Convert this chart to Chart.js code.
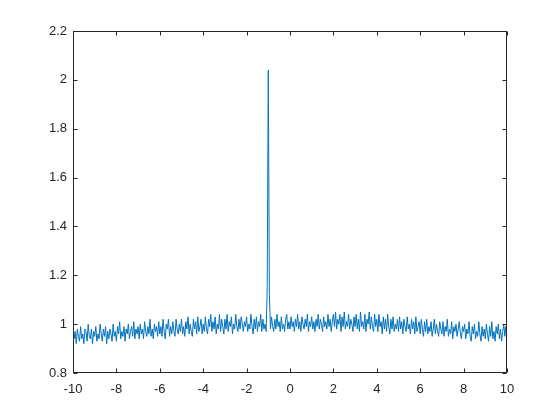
<!DOCTYPE html>
<html>
<head>
<meta charset="utf-8">
<script src="https://cdn.jsdelivr.net/npm/chart.js@4"></script>
<style>
  html, body { margin: 0; padding: 0; background: #fff; }
  canvas { display: block; }
</style>
</head>
<body>
<canvas id="chart" width="560" height="420"></canvas>
<script>
// sample grid: x from -10 to 10, step 0.05
const X_START = -10;
const X_STEP = 0.05;

// signal values, one row per unit of x
const ys = [
  0.99, 0.94, 0.97, 0.92, 0.98, 0.95, 0.93, 0.99, 0.94, 0.96, 0.92, 0.98, 0.97, 0.93, 1.00, 0.95, 0.94, 0.98, 0.92, 0.97,
  0.95, 0.99, 0.93, 0.96, 0.94, 1.00, 0.96, 0.93, 0.98, 0.95, 0.99, 0.92, 0.97, 0.94, 0.98, 0.96, 0.93, 1.00, 0.95, 0.97,
  0.93, 0.99, 0.96, 1.01, 0.94, 0.97, 0.95, 0.99, 0.93, 0.98, 0.96, 1.00, 0.94, 0.97, 0.99, 0.95, 1.01, 0.94, 0.98, 0.96,
  0.99, 0.94, 1.00, 0.96, 0.98, 0.94, 1.01, 0.97, 0.95, 0.99, 0.96, 1.02, 0.95, 0.98, 0.94, 1.00, 0.97, 0.99, 0.95, 1.01,
  0.96, 0.99, 0.95, 1.02, 0.97, 0.94, 1.00, 0.98, 1.02, 0.95, 0.99, 0.96, 1.01, 0.97, 0.95, 1.02, 0.98, 0.96, 1.00, 0.97,
  1.02, 0.96, 0.99, 0.95, 1.01, 0.98, 1.03, 0.96, 1.00, 0.97, 0.95, 1.02, 0.98, 1.01, 0.96, 1.03, 0.97, 0.99, 1.02, 0.96,
  1.00, 0.97, 1.03, 0.98, 0.96, 1.02, 0.99, 1.04, 0.97, 1.01, 0.98, 1.03, 0.96, 1.00, 0.98, 1.04, 0.97, 1.02, 0.99, 0.96,
  1.02, 0.98, 1.04, 0.97, 1.01, 0.99, 1.03, 0.96, 1.00, 0.98, 1.04, 0.99, 0.97, 1.02, 0.98, 1.03, 1.00, 0.97, 1.01, 0.99,
  1.03, 0.97, 1.00, 0.98, 1.04, 0.99, 0.96, 1.02, 0.98, 1.03, 0.97, 1.01, 0.99, 1.04, 0.97, 1.02, 0.98, 1.00, 0.97, 1.15,
  2.04, 1.12, 0.98, 1.03, 0.99, 0.97, 1.02, 0.98, 1.04, 0.99, 1.01, 0.97, 1.03, 0.98, 1.00, 0.97, 1.02, 1.04, 0.98, 1.01,
  0.98, 1.03, 0.99, 1.01, 0.97, 1.02, 0.99, 1.04, 0.98, 1.01, 0.97, 1.03, 1.00, 0.98, 1.02, 0.99, 1.04, 0.97, 1.01, 0.99,
  1.03, 0.98, 1.01, 0.97, 1.02, 0.99, 1.04, 0.98, 1.02, 1.00, 0.97, 1.03, 0.99, 1.01, 0.98, 1.04, 0.99, 1.02, 0.97, 1.01,
  1.04, 0.99, 1.05, 0.98, 1.02, 1.00, 1.04, 0.97, 1.03, 0.99, 1.05, 0.98, 1.01, 0.99, 1.04, 0.98, 1.02, 1.00, 0.97, 1.03,
  0.99, 1.04, 0.98, 1.02, 0.97, 1.05, 0.99, 1.01, 0.98, 1.04, 0.97, 1.02, 1.00, 1.05, 0.98, 1.03, 0.99, 0.97, 1.04, 0.99,
  1.02, 0.97, 1.04, 0.99, 1.01, 0.96, 1.03, 0.98, 1.02, 0.97, 1.04, 0.99, 0.96, 1.02, 0.98, 1.03, 0.97, 1.00, 0.98, 1.02,
  0.97, 1.03, 0.98, 1.01, 0.96, 1.02, 0.99, 0.97, 1.03, 0.98, 1.00, 0.96, 1.02, 0.98, 1.01, 0.96, 1.03, 0.97, 0.99, 1.01,
  0.96, 1.02, 0.98, 0.95, 1.01, 0.97, 1.02, 0.96, 0.99, 0.97, 1.01, 0.95, 0.98, 1.02, 0.96, 1.00, 0.97, 0.95, 1.01, 0.98,
  0.96, 1.01, 0.95, 0.99, 0.97, 1.02, 0.95, 0.98, 0.96, 1.01, 0.94, 0.99, 0.97, 1.00, 0.95, 0.98, 1.01, 0.96, 0.94, 0.99,
  0.97, 1.00, 0.94, 0.98, 0.96, 1.01, 0.95, 0.93, 0.99, 0.96, 1.00, 0.94, 0.97, 0.95, 1.01, 0.96, 0.93, 0.99, 0.95, 0.98,
  0.94, 1.00, 0.96, 0.93, 0.99, 0.95, 1.01, 0.94, 0.97, 0.93, 0.99, 0.96, 1.00, 0.94, 0.98, 0.93, 0.97, 1.00, 0.95, 0.99,
  0.93
];

const xTicks = [-10, -8, -6, -4, -2, 0, 2, 4, 6, 8, 10];
const yTicks = [0.8, 1, 1.2, 1.4, 1.6, 1.8, 2, 2.2];

const points = ys.map((y, i) => ({ x: X_START + i * X_STEP, y: y }));

const AXIS_COLOR = '#262626';
const TICK_LEN = 4;
const FONT = { family: 'Liberation Sans, Arial, sans-serif', size: 13 };

// matlab style box with inward ticks on all four sides
const boxPlugin = {
  id: 'box',
  afterDraw(chart) {
    const { ctx, chartArea: a, scales } = chart;
    ctx.save();
    ctx.strokeStyle = AXIS_COLOR;
    ctx.lineWidth = 1;
    const l = Math.round(a.left) + 0.5, r = Math.round(a.right) - 0.5;
    const t = Math.round(a.top) + 0.5, b = Math.round(a.bottom) - 0.5;
    ctx.strokeRect(l, t, r - l, b - t);
    ctx.beginPath();
    scales.x.ticks.forEach(tk => {
      const px = Math.round(scales.x.getPixelForValue(tk.value)) + 0.5;
      ctx.moveTo(px, b); ctx.lineTo(px, b - TICK_LEN);
      ctx.moveTo(px, t); ctx.lineTo(px, t + TICK_LEN);
    });
    scales.y.ticks.forEach(tk => {
      const py = Math.round(scales.y.getPixelForValue(tk.value)) + 0.5;
      ctx.moveTo(l, py); ctx.lineTo(l + TICK_LEN, py);
      ctx.moveTo(r, py); ctx.lineTo(r - TICK_LEN, py);
    });
    ctx.stroke();
    ctx.restore();
  }
};

new Chart(document.getElementById('chart').getContext('2d'), {
  type: 'line',
  data: {
    datasets: [{
      data: points,
      borderColor: '#0072BD',
      borderWidth: 1,
      pointRadius: 0,
      tension: 0,
      fill: false
    }]
  },
  options: {
    responsive: false,
    animation: false,
    devicePixelRatio: 1,
    layout: { padding: { top: 31, right: 53, left: 0, bottom: 0 } },
    plugins: { legend: { display: false }, tooltip: { enabled: false } },
    scales: {
      x: {
        type: 'linear',
        min: -10, max: 10,
        afterBuildTicks: s => { s.ticks = xTicks.map(v => ({ value: v })); },
        afterFit: s => { s.height = 47; },
        grid: { display: false, drawTicks: false },
        border: { display: false },
        ticks: {
          color: AXIS_COLOR,
          font: FONT,
          padding: 9,
          maxRotation: 0,
          autoSkip: false,
          callback: v => String(v)
        }
      },
      y: {
        min: 0.8, max: 2.2,
        afterBuildTicks: s => { s.ticks = yTicks.map(v => ({ value: v })); },
        afterFit: s => { s.width = 73; },
        grid: { display: false, drawTicks: false },
        border: { display: false },
        ticks: {
          color: AXIS_COLOR,
          font: FONT,
          padding: 6,
          autoSkip: false,
          callback: v => String(Number(v.toFixed(1)))
        }
      }
    }
  },
  plugins: [boxPlugin]
});
</script>
</body>
</html>
